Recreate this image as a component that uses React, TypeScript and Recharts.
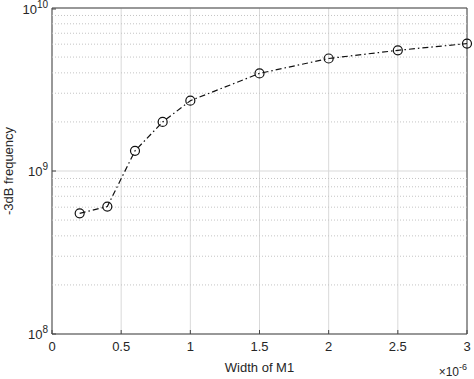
import React from 'react';
import { LineChart, Line, XAxis, YAxis, CartesianGrid, ReferenceLine, ReferenceArea, Label } from 'recharts';

// Width of M1 (x 1e-6) and measured -3dB frequency (Hz)
const widths = [0.2, 0.4, 0.6, 0.8, 1.0, 1.5, 2.0, 2.5, 3.0];
const freqs = [5.5e8, 6.05e8, 1.33e9, 2.0e9, 2.7e9, 3.97e9, 4.9e9, 5.5e9, 6.05e9];

const xTicks = [0, 0.5, 1, 1.5, 2, 2.5, 3];
const yTicks = [1e8, 1e9, 1e10];
const minorTicks = [2e8, 3e8, 4e8, 5e8, 6e8, 7e8, 8e8, 9e8, 2e9, 3e9, 4e9, 5e9, 6e9, 7e9, 8e9, 9e9];

const data = widths.map((w, i) => ({ w, f: freqs[i] }));

const FONT = '"Liberation Sans", Arial, sans-serif';
const TEXT = '#262626';

const XTick = ({ x, y, payload }: any) => (
  <g>
    <line x1={x} y1={y} x2={x} y2={y - 4} stroke="#444" />
    <text x={x} y={y + 17} textAnchor="middle" fontSize={13} fontFamily={FONT} fill={TEXT}>
      {payload.value}
    </text>
  </g>
);

const YTick = ({ x, y, payload }: any) => {
  const exp = Math.round(Math.log10(payload.value));
  return (
    <g>
      <line x1={x} y1={y} x2={x + 4} y2={y} stroke="#444" />
      <text x={x - 4} y={y + 5} textAnchor="end" fontSize={13} fontFamily={FONT} fill={TEXT}>
        10
        <tspan dy={-6} fontSize={10}>{exp}</tspan>
      </text>
    </g>
  );
};

const XLabel = ({ viewBox }: any) => {
  const { x, y, width } = viewBox;
  return (
    <g fontFamily={FONT} fill={TEXT}>
      <text x={x + width / 2} y={y + 38} textAnchor="middle" fontSize={13}>Width of M1</text>
      <text x={x + width} y={y + 42} textAnchor="end" fontSize={12}>
        ×10
        <tspan dy={-6} fontSize={9}>-6</tspan>
      </text>
    </g>
  );
};

const YLabel = ({ viewBox }: any) => {
  const { y, height } = viewBox;
  const cx = 13;
  const cy = y + height / 2;
  return (
    <text
      x={cx}
      y={cy}
      transform={`rotate(-90 ${cx} ${cy})`}
      textAnchor="middle"
      fontSize={13}
      fontFamily={FONT}
      fill={TEXT}
    >
      -3dB frequency
    </text>
  );
};

const App = () => {
  return (
    <div style={{ position: 'absolute', left: 0, top: 0, background: '#fff' }}>
      <LineChart width={474} height={379} data={data} margin={{ top: 8, right: 7, bottom: 0, left: 0 }}>
        <CartesianGrid stroke="#d9d9d9" />
        {minorTicks.map((t) => (
          <ReferenceLine key={t} y={t} stroke="#c4c4c4" strokeDasharray="1 2" />
        ))}
        <XAxis
          dataKey="w"
          type="number"
          domain={[0, 3]}
          ticks={xTicks}
          tick={<XTick />}
          tickSize={0}
          tickMargin={0}
          tickLine={false}
          axisLine={false}
          height={45}
        >
          <Label content={<XLabel />} />
        </XAxis>
        <YAxis
          dataKey="f"
          scale="log"
          type="number"
          domain={[1e8, 1e10]}
          ticks={yTicks}
          tick={<YTick />}
          tickSize={0}
          tickMargin={0}
          tickLine={false}
          axisLine={false}
          allowDataOverflow
          width={52}
        >
          <Label content={<YLabel />} />
        </YAxis>
        <ReferenceArea x1={0} x2={3} y1={1e8} y2={1e10} fill="none" stroke="#444" strokeWidth={1} ifOverflow="visible" />
        <Line
          dataKey="f"
          stroke="#111"
          strokeWidth={1.2}
          strokeDasharray="6 3 1.5 3"
          dot={{ r: 4.5, stroke: '#111', strokeWidth: 1.2, fill: 'none', strokeDasharray: '' }}
          isAnimationActive={false}
        />
      </LineChart>
    </div>
  );
};

export default App;
